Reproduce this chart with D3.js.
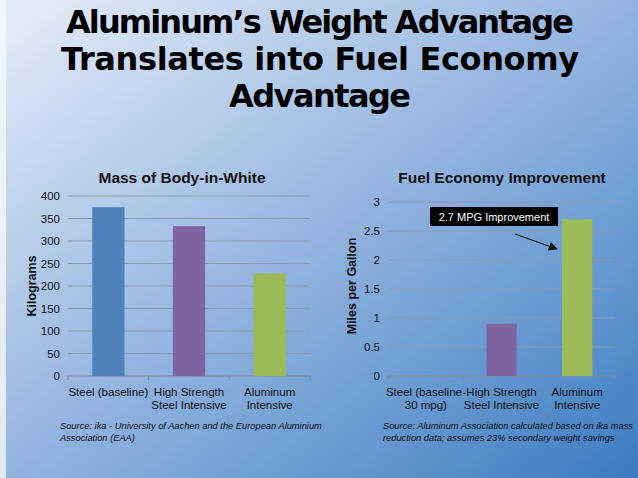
<!DOCTYPE html><html><head><meta charset="utf-8">
<script src="https://cdn.jsdelivr.net/npm/d3@7/dist/d3.min.js"></script>
<style>body{margin:0}svg{display:block;font-family:"Liberation Sans",Arial,sans-serif}</style></head><body>
<svg id="c" width="638" height="478"></svg>
<script>
const massCats=["Steel (baseline)","High Strength Steel Intensive","Aluminum Intensive"];
const massVals=[375,333,228];
const massLabels=[["Steel (baseline)"],["High Strength","Steel Intensive"],["Aluminum","Intensive"]];
const massTicks=[0,50,100,150,200,250,300,350,400];
const fuelCats=["Steel (baseline-30 mpg)","High Strength Steel Intensive","Aluminum Intensive"];
const fuelVals=[0,0.9,2.7];
const fuelLabels=[["Steel (baseline-","30 mpg)"],["High Strength","Steel Intensive"],["Aluminum","Intensive"]];
const fuelTicks=[0,0.5,1,1.5,2,2.5,3];
const colors=["#4f81bd","#8064a2","#9bbb59"];

const svg=d3.select("#c");
const defs=svg.append("defs");
const g=defs.append("linearGradient").attr("id","bg").attr("x1","0").attr("y1","0").attr("x2","1").attr("y2","1");
g.append("stop").attr("offset","0").attr("stop-color","#e6edf8");
g.append("stop").attr("offset","0.4").attr("stop-color","#a3bfe4");
g.append("stop").attr("offset","1").attr("stop-color","#3c7cc2");
svg.append("rect").attr("width",638).attr("height",478).attr("fill","url(#bg)");
svg.append("rect").attr("width",6).attr("height",478).attr("fill","#f4f7fb").attr("opacity",0.8);

const title=["Aluminum’s Weight Advantage","Translates into Fuel Economy","Advantage"];
svg.append("g").selectAll("text").data(title).join("text").attr("x",320).attr("y",(d,i)=>33+i*37)
 .attr("text-anchor","middle").attr("font-size",32).attr("font-weight",900).attr("fill","#000")
 .style("font-family","'DejaVu Sans',Arial").attr("textLength",(d,i)=>[508,518,182][i]).text(d=>d);

function chart(o){
 const x=d3.scaleBand().domain(o.cats).range([o.x0,o.x1]).paddingInner(0.6).paddingOuter(0.3);
 const y=d3.scaleLinear().domain([0,o.max]).range([376,o.top]);
 const G=svg.append("g");
 G.selectAll(".gl").data(o.ticks.slice(1)).join("line").attr("x1",o.x0).attr("x2",o.x1)
  .attr("y1",d=>y(d)).attr("y2",d=>y(d)).attr("stroke","#8a9ab0").attr("stroke-width",1);
 G.append("line").attr("x1",o.x0).attr("x2",o.x1).attr("y1",376).attr("y2",376).attr("stroke","#7f8a99");
 G.selectAll(".tk").data(d3.range(4)).join("line").attr("x1",(d,i)=>o.x0+i*(o.x1-o.x0)/3).attr("x2",(d,i)=>o.x0+i*(o.x1-o.x0)/3)
  .attr("y1",376).attr("y2",380).attr("stroke","#7f8a99");
 G.selectAll(".yl").data(o.ticks).join("text").attr("x",o.x0-8).attr("y",d=>y(d)+4)
  .attr("text-anchor","end").attr("font-size",11.5).attr("fill","#111").text(d=>d);
 G.selectAll(".bar").data(o.vals).join("rect").attr("x",(d,i)=>x(o.cats[i])).attr("width",x.bandwidth())
  .attr("y",d=>y(d)).attr("height",d=>376-y(d)).attr("fill",(d,i)=>colors[i]);
 o.labels.forEach((ls,i)=>ls.forEach((l,j)=>G.append("text").attr("x",x(o.cats[i])+x.bandwidth()/2)
  .attr("y",396+j*13).attr("text-anchor","middle").attr("font-size",11.5).attr("fill","#111").text(l)));
 G.append("text").attr("x",o.tx).attr("y",183).attr("text-anchor","middle").attr("font-size",15.5)
  .attr("font-weight","bold").attr("fill","#111").text(o.title);
 G.append("text").attr("transform",`translate(${o.ax},${o.ay}) rotate(-90)`).attr("text-anchor","middle")
  .attr("font-size",12.5).attr("font-weight","bold").attr("fill","#111").text(o.axis);
 o.src.forEach((s,j)=>G.append("text").attr("x",o.sx).attr("y",429+j*12).attr("font-size",9.3)
  .attr("font-style","italic").attr("fill","#111").text(s));
 return {x,y};
}
chart({cats:massCats,vals:massVals,labels:massLabels,ticks:massTicks,max:400,top:196,x0:68,x1:310,
 title:"Mass of Body-in-White",tx:182,axis:"Kilograms",ax:36,ay:286,sx:60,
 src:["Source: ika - University of Aachen and the European Aluminium","Association (EAA)"]});
const f=chart({cats:fuelCats,vals:fuelVals,labels:fuelLabels,ticks:fuelTicks,max:3,top:202,x0:388,x1:615,
 title:"Fuel Economy Improvement",tx:502,axis:"Miles per Gallon",ax:356,ay:286,sx:383,
 src:["Source: Aluminum Association calculated based on ika mass","reduction data; assumes 23% secondary weight savings"]});
svg.append("rect").attr("x",430).attr("y",207).attr("width",128).attr("height",19).attr("fill","#000");
svg.append("text").attr("x",494).attr("y",221).attr("text-anchor","middle").attr("font-size",11).attr("fill","#fff").text("2.7 MPG Improvement");
defs.append("marker").attr("id","ar").attr("viewBox","0 0 10 10").attr("refX",9).attr("refY",5)
 .attr("markerWidth",7).attr("markerHeight",7).attr("orient","auto").append("path").attr("d","M0,0L10,5L0,10z").attr("fill","#111");
svg.append("line").attr("x1",515).attr("y1",234).attr("x2",557).attr("y2",249).attr("stroke","#111").attr("stroke-width",1.3).attr("marker-end","url(#ar)");
</script></body></html>
